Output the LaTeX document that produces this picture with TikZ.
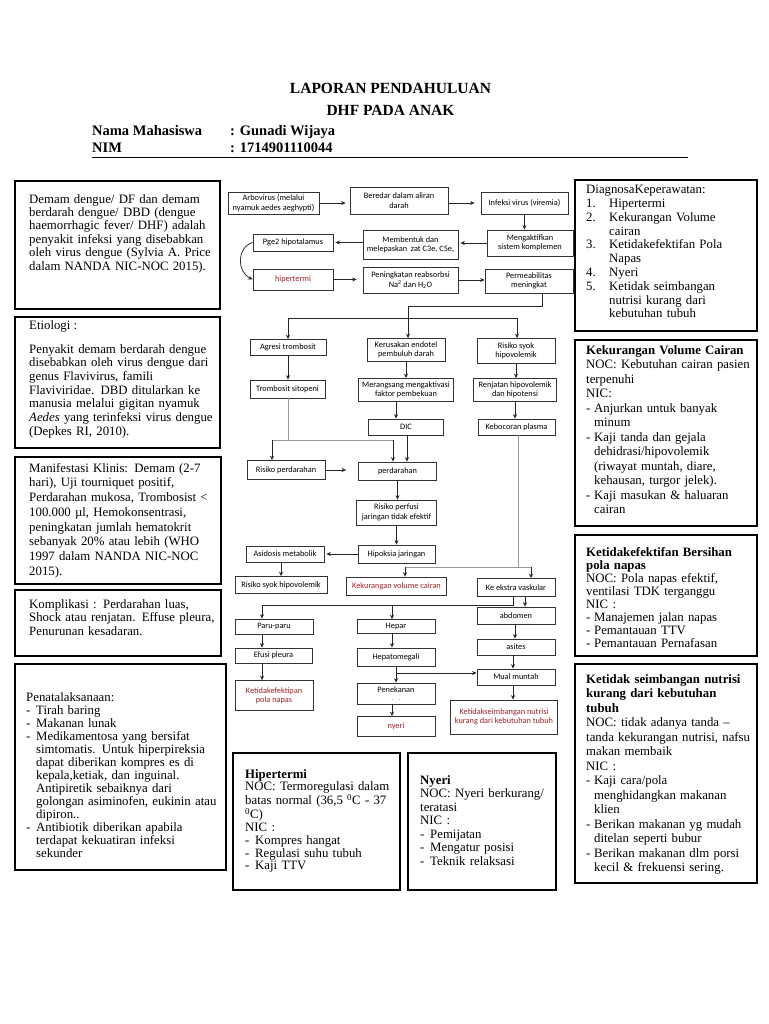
\documentclass[tikz,border=0pt]{standalone}
\usepackage{fontspec}
\setmainfont{Liberation Serif}
\newfontfamily\calfont{Carlito}
\usetikzlibrary{arrows.meta}
\definecolor{dred}{RGB}{160,35,40}
\definecolor{lgray}{RGB}{150,150,150}
\newcommand\J[1]{\makebox[\linewidth][s]{#1}}
\newcommand\bl[1][8pt]{\makebox[#1][l]{-}}
\newcommand\nm[1]{\makebox[23pt][l]{#1}}
\begin{document}
\begin{tikzpicture}[x=1pt,y=-1pt,
  fb/.style={draw=black!80,line width=0.75pt,font=\calfont\fontsize{8.3}{9.4}\selectfont,align=center,inner sep=0pt},
  rtx/.style={text=dred},
  ar/.style={draw=black!85,line width=0.75pt,-{Stealth[length=4.5pt,width=4pt]}},
  gl/.style={draw=lgray,line width=0.75pt},
  tbox/.style={draw=black,line width=2.2pt},
  tx/.style={anchor=north west,inner sep=0pt,align=left},
  fs/.style={font=\fontsize{12.8}{#1}\selectfont},
]
\useasboundingbox (0,0) rectangle (768,1024);
\fill[white] (0,0) rectangle (768,1024);

% ---------- header
\node[font=\bfseries\fontsize{15.5}{18}\selectfont] (title1) at (390.5,88) {LAPORAN PENDAHULUAN};
\node[font=\bfseries\fontsize{15.5}{18}\selectfont] (title2) at (390.5,110) {DHF PADA ANAK};
\node[anchor=base west,inner sep=0pt,font=\bfseries\fontsize{14.5}{17}\selectfont] (nama) at (92,136) {Nama Mahasiswa};
\node[anchor=base west,inner sep=0pt,font=\bfseries\fontsize{14.5}{17}\selectfont] (namav) at (230,136) {: Gunadi Wijaya};
\node[anchor=base west,inner sep=0pt,font=\bfseries\fontsize{14.5}{17}\selectfont] (nim) at (92,153) {NIM};
\node[anchor=base west,inner sep=0pt,font=\bfseries\fontsize{14.5}{17}\selectfont] (nimv) at (230,153) {: 1714901110044};
\coordinate (r1) at (92,157.5);
\coordinate (r2) at (688,157.5);
\draw[line width=1.3pt] (r1) -- (r2);

% ---------- framed text boxes
\draw[tbox] (15,181) rectangle (220,309);
\draw[tbox] (15,317) rectangle (220,448);
\draw[tbox] (15,457) rectangle (221,584);
\draw[tbox] (15,590) rectangle (221,656);
\draw[tbox] (15,664) rectangle (226,870);
\draw[tbox] (575,180) rectangle (757,331);
\draw[tbox] (575,340) rectangle (757,526);
\draw[tbox] (575,535) rectangle (757,656);
\draw[tbox] (575,664) rectangle (757,883);
\draw[tbox] (233,753) rectangle (400,890);
\draw[tbox] (408,753) rectangle (556,890);

% ---------- left texts
\node[tx,fs=13.4,text width=185] (deftx) at (29,194) {\J{Demam dengue/ DF dan demam}\\\J{berdarah dengue/ DBD (dengue}\\\J{haemorrhagic fever/ DHF) adalah}\\\J{penyakit infeksi yang disebabkan}\\\J{oleh virus dengue (Sylvia A. Price}\\dalam NANDA NIC-NOC 2015).};
\node[tx,fs=14.5] (etio1) at (29,320) {Etiologi :};
\node[tx,fs=13.7,text width=188] (etio2) at (29,344) {Penyakit demam berdarah dengue\\disebabkan oleh virus dengue dari\\genus Flavivirus, famili\\Flaviviridae. DBD ditularkan ke\\manusia melalui gigitan nyamuk\\\textit{Aedes} yang terinfeksi virus dengue\\(Depkes RI, 2010).};
\node[tx,fs=14.7,text width=185] (mani) at (29,463) {\J{Manifestasi Klinis: Demam (2-7}\\\J{hari), Uji tourniquet positif,}\\\J{Perdarahan mukosa, Trombosist <}\\\J{100.000 µl, Hemokonsentrasi,}\\\J{peningkatan jumlah hematokrit}\\\J{sebanyak 20\% atau lebih (WHO}\\\J{1997 dalam NANDA NIC-NOC}\\2015).};
\node[tx,fs=13.5,text width=185] (kompl) at (29,599) {\J{Komplikasi : Perdarahan luas,}\\\J{Shock atau renjatan. Effuse pleura,}\\Penurunan kesadaran.};
\node[tx,fs=13,text width=194] (penat) at (26,692) {Penatalaksanaan:\\\bl[10pt]Tirah baring\\\bl[10pt]Makanan lunak\\\bl[10pt]Medikamentosa yang bersifat\\\hspace*{10pt}simtomatis. Untuk hiperpireksia\\\hspace*{10pt}dapat diberikan kompres es di\\\hspace*{10pt}kepala,ketiak, dan inguinal.\\\hspace*{10pt}Antipiretik sebaiknya dari\\\hspace*{10pt}golongan asiminofen, eukinin atau\\\hspace*{10pt}dipiron..\\\bl[10pt]\makebox[182pt][s]{Antibiotik diberikan apabila}\\\hspace*{10pt}\makebox[182pt][s]{terdapat kekuatiran infeksi}\\\hspace*{10pt}sekunder};

% ---------- right texts
\node[tx,fs=13.8,text width=170] (diag) at (586,185) {DiagnosaKeperawatan:\\\nm{1.}Hipertermi\\\nm{2.}Kekurangan Volume\\\hspace*{23pt}cairan\\\nm{3.}Ketidakefektifan Pola\\\hspace*{23pt}Napas\\\nm{4.}Nyeri\\\nm{5.}Ketidak seimbangan\\\hspace*{23pt}nutrisi kurang dari\\\hspace*{23pt}kebutuhan tubuh};
\node[tx,fs=14.5,text width=170] (kvc) at (586,345) {\textbf{Kekurangan Volume Cairan}\\NOC: Kebutuhan cairan pasien\\terpenuhi\\NIC:\\\bl Anjurkan untuk banyak\\\hspace*{8pt}minum\\\bl Kaji tanda dan gejala\\\hspace*{8pt}dehidrasi/hipovolemik\\\hspace*{8pt}(riwayat muntah, diare,\\\hspace*{8pt}kehausan, turgor jelek).\\\bl Kaji masukan \& haluaran\\\hspace*{8pt}cairan};
\node[tx,fs=13,text width=170] (ketpn) at (586,547) {\textbf{Ketidakefektifan Bersihan}\\\textbf{pola napas}\\NOC: Pola napas efektif,\\ventilasi TDK terganggu\\NIC :\\\bl Manajemen jalan napas\\\bl Pemantauan TTV\\\bl Pemantauan Pernafasan};
\node[tx,fs=14.5,text width=170] (ketnut) at (586,674) {\textbf{Ketidak seimbangan nutrisi}\\\textbf{kurang dari kebutuhan}\\\textbf{tubuh}\\NOC: tidak adanya tanda --\\tanda kekurangan nutrisi, nafsu\\makan membaik\\NIC :\\\bl Kaji cara/pola\\\hspace*{8pt}menghidangkan makanan\\\hspace*{8pt}klien\\\bl Berikan makanan yg mudah\\\hspace*{8pt}ditelan seperti bubur\\\bl Berikan makanan dlm porsi\\\hspace*{8pt}kecil \& frekuensi sering.};

% ---------- bottom texts
\node[tx,fs=12.7,text width=152] (hiptx) at (245,769) {\textbf{Hipertermi}\\NOC: Termoregulasi dalam\\batas normal (36,5 \textsuperscript{0}C - 37\\\textsuperscript{0}C)\\NIC :\\\bl[10pt]Kompres hangat\\\bl[10pt]Regulasi suhu tubuh\\\bl[10pt]Kaji TTV};
\node[tx,fs=13.5,text width=132] (nyetx) at (420,775) {\textbf{Nyeri}\\NOC: Nyeri berkurang/\\teratasi\\NIC :\\\bl[10pt]Pemijatan\\\bl[10pt]Mengatur posisi\\\bl[10pt]Teknik relaksasi};

% ---------- flowchart nodes
\node[fb,minimum width=91,minimum height=22] (arbo) at (273.5,203) {Arbovirus (melalui\\nyamuk aedes aeghypti)};
\node[fb,minimum width=98,minimum height=27] (beredar) at (399,200.5) {Beredar dalam aliran\\darah};
\node[fb,minimum width=87,minimum height=22] (infeksi) at (524.5,203) {Infeksi virus (viremia)};
\node[fb,minimum width=86,minimum height=26] (menga) at (530,243) {Mengaktifkan\\sistem komplemen};
\node[fb,minimum width=95,minimum height=29] (membentuk) at (410.5,244.5) {Membentuk dan\\melepaskan\ \ zat C3e, C5e,};
\node[fb,minimum width=80,minimum height=17] (pge) at (293,242.5) {Pge2 hipotalamus};
\node[fb,rtx,minimum width=80,minimum height=21] (hiper) at (293,279.5) {hipertermi};
\node[fb,minimum width=95,minimum height=26] (pening) at (410.5,280) {Peningkatan reabsorbsi\\Na\textsuperscript{2} dan H\textsubscript{2}O};
\node[fb,minimum width=88,minimum height=24] (perme) at (529,281) {Permeabilitas\\meningkat};
\node[fb,minimum width=76,minimum height=16] (agresi) at (288,347.5) {Agresi trombosit};
\node[fb,minimum width=78,minimum height=23] (kerus) at (406,350) {Kerusakan endotel\\pembuluh darah};
\node[fb,minimum width=78,minimum height=25] (rsyok) at (516,351) {Risiko syok\\hipovolemik};
\node[fb,minimum width=75,minimum height=18] (tromb) at (287.5,389) {Trombosit sitopeni};
\node[fb,minimum width=95,minimum height=23] (meran) at (406,390) {Merangsang mengaktivasi\\faktor pembekuan};
\node[fb,minimum width=83,minimum height=23] (renj) at (515,390) {Renjatan hipovolemik\\dan hipotensi};
\node[fb,minimum width=75,minimum height=16] (dic) at (406,427) {DIC};
\node[fb,minimum width=77,minimum height=16] (kebo) at (516.5,427) {Kebocoran plasma};
\node[fb,minimum width=78,minimum height=19] (rperd) at (286,470) {Risiko perdarahan};
\node[fb,minimum width=78,minimum height=18] (perd) at (397.5,471) {perdarahan};
\node[fb,minimum width=80,minimum height=25] (perf) at (396.5,512.5) {Risiko perfusi\\jaringan tidak efektif};
\node[fb,minimum width=77,minimum height=18] (hipok) at (396.5,554) {Hipoksia jaringan};
\node[fb,minimum width=78,minimum height=16] (asid) at (285,554) {Asidosis metabolik};
\node[fb,minimum width=92,minimum height=17] (rsyok2) at (281,585) {Risiko syok hipovolemik};
\node[fb,rtx,minimum width=100,minimum height=18] (kvcf) at (396.5,586) {Kekurangan volume cairan};
\node[fb,minimum width=78,minimum height=18] (ekstra) at (516,587.5) {Ke ekstra vaskular};
\node[fb,minimum width=78,minimum height=15] (paru) at (274,626.5) {Paru-paru};
\node[fb,minimum width=78,minimum height=14] (hepar) at (396,626.5) {Hepar};
\node[fb,minimum width=78,minimum height=17] (abdo) at (516,615.5) {abdomen};
\node[fb,minimum width=77,minimum height=15] (efusi) at (273.5,655.5) {Efusi pleura};
\node[fb,rtx,minimum width=78,minimum height=30] (ketpol) at (274,695.5) {Ketidakefektipan\\pola napas};
\node[fb,minimum width=78,minimum height=18] (hepato) at (396,657) {Hepatomegali};
\node[fb,minimum width=78,minimum height=16] (asites) at (516,647) {asites};
\node[fb,minimum width=78,minimum height=16] (mual) at (516,677) {Mual muntah};
\node[fb,minimum width=78,minimum height=21] (pene) at (396,693.5) {Penekanan\\[-2pt]{\fontsize{5}{5}\selectfont .\quad.}};
\node[fb,rtx,minimum width=78,minimum height=20] (nyeri) at (396,726.5) {nyeri};
\node[fb,rtx,minimum width=107,minimum height=34] (ketnutf) at (504,717) {Ketidakseimbangan nutrisi\\kurang dari kebutuhan tubuh};

% ---------- connectors
\draw[ar,shorten >=4pt] (arbo.east) -- (arbo.east -| beredar.west);
\draw[ar,shorten >=6pt] (beredar.east |- infeksi.west) -- (infeksi.west);
\draw[ar] (infeksi.south) -- (infeksi.south |- menga.north);
\draw[ar,shorten >=2pt] (menga.west) -- (menga.west -| membentuk.east);
\draw[ar,shorten >=2pt] (membentuk.west |- pge.east) -- (pge.east);
\draw[ar] (pge.west) .. controls +(-16,5) and +(-16,-8) .. (hiper.west);
\draw[ar,shorten >=6pt] (hiper.east) -- (hiper.east -| pening.west);
\draw[ar] (pening.east) -- (pening.east -| perme.west);
\coordinate (p1) at (542,306);
\coordinate (p2) at (408,306);
\coordinate (s1) at (288,318);
\coordinate (s2) at (408,318);
\coordinate (s3) at (517,318);
\draw[ar] (perme.south -| p1) -- (p1) -- (p2) -- (p2 |- kerus.north);
\draw[ar] (s1) -- (s1 |- agresi.north);
\draw[ar] (s1) -- (s3) -- (s3 |- rsyok.north);
\draw[ar] (agresi.south) -- (agresi.south |- tromb.north);
\draw[ar] (kerus.south) -- (kerus.south |- meran.north);
\draw[ar] (rsyok.south) -- (rsyok.south |- renj.north);
\coordinate (m1) at (396,0);
\draw[ar] (meran.south -| m1) -- (m1 |- dic.north);
\draw[ar] (renj.south) -- (renj.south |- kebo.north);
\coordinate (t1) at (288,440);
\coordinate (t2) at (272,440);
\coordinate (t3) at (393,440);
\draw[gl] (tromb.south -| t1) -- (t1);
\draw[gl] (t2) -- (t3);
\draw[ar] (t2) -- (t2 |- rperd.north);
\draw[ar] (t3) -- (t3 |- perd.north);
\coordinate (d1) at (407,0);
\draw[ar] (dic.south -| d1) -- (d1 |- perd.north);
\draw[ar,shorten >=12pt] (rperd.east) -- (rperd.east -| perd.west);
\draw[ar] (perd.south) -- (perd.south |- perf.north);
\draw[ar] (perf.south) -- (perf.south |- hipok.north);
\draw[ar,shorten >=2pt] (hipok.west) -- (hipok.west -| asid.east);
\draw[ar] (asid.south -| rsyok2.north) -- (rsyok2.north);
\coordinate (k1) at (518,567);
\coordinate (k2) at (405,567);
\coordinate (k3) at (531,567);
\draw[gl] (kebo.south -| k1) -- (k1);
\draw[gl] (k2) -- (k3);
\draw[ar] (k2) -- (k2 |- kvcf.north);
\draw[ar] (k3) -- (k3 |- ekstra.north);
\coordinate (e1) at (513,605);
\coordinate (e2) at (262,605);
\coordinate (e3) at (392,605);
\coordinate (e4) at (525,0);
\draw[ar] (ekstra.south -| e1) -- (e1) -- (e2) -- (e2 |- paru.north);
\draw[ar] (e3) -- (e3 |- hepar.north);
\draw[ar] (ekstra.south -| e4) -- (e4 |- abdo.north);
\draw[ar] (paru.south -| e2) -- (e2 |- efusi.north);
\draw[ar] (efusi.south -| e2) -- (e2 |- ketpol.north);
\draw[ar] (hepar.south -| e3) -- (e3 |- hepato.north);
\coordinate (h1) at (396,673);
\draw[ar] (hepato.south) -- (h1) -- (h1 -| mual.west);
\draw[ar] (h1) -- (h1 |- pene.north);
\draw[ar] (pene.south -| e3) -- (e3 |- nyeri.north);
\coordinate (a1) at (515,0);
\coordinate (a2) at (513,0);
\draw[ar] (abdo.south -| a1) -- (a1 |- asites.north);
\draw[ar] (asites.south -| a2) -- (a2 |- mual.north);
\draw[ar] (mual.south -| a2) -- (a2 |- ketnutf.north);
\end{tikzpicture}
\end{document}
